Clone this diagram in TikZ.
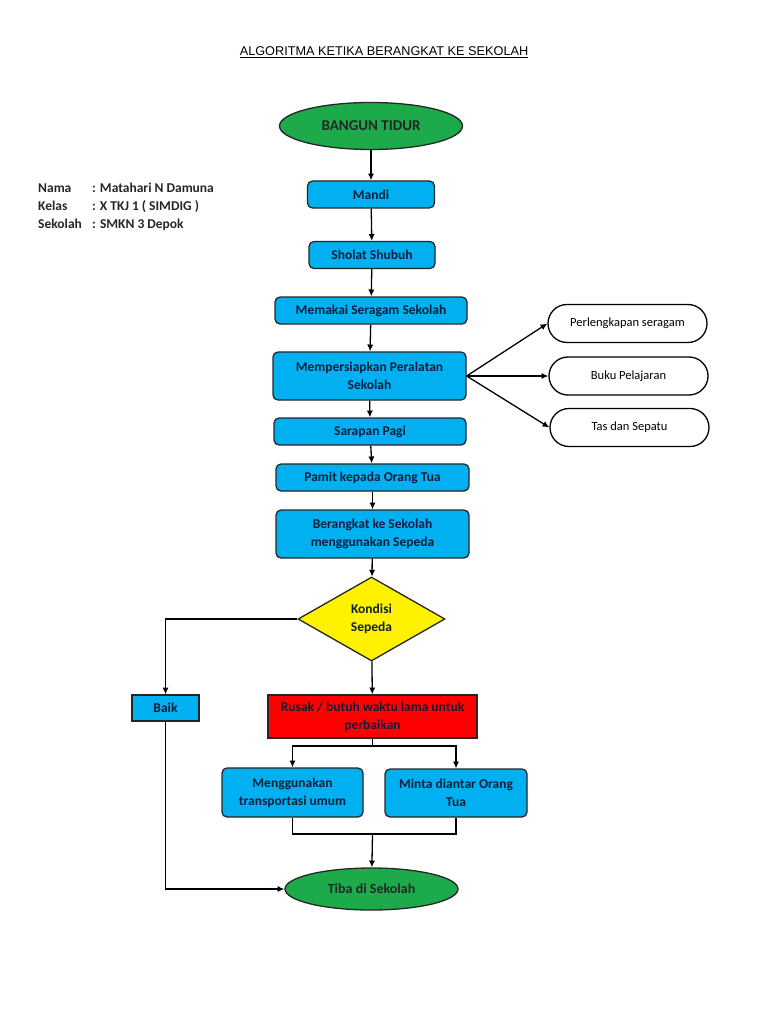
\documentclass[tikz,border=0pt]{standalone}
\usepackage{fontspec}
\setmainfont{Carlito}
\newfontfamily\titlefont{Liberation Sans}
\usetikzlibrary{arrows.meta,positioning,shapes.geometric}
\definecolor{boxblue}{HTML}{00B0F0}
\definecolor{startgreen}{HTML}{1DAA4A}
\definecolor{txtnavy}{HTML}{0F1E3C}

\begin{document}
\begin{tikzpicture}[x=1pt,y=-1pt,font=\fontsize{13}{15}\selectfont,
 box/.style={draw=black!85,line width=1.3pt,rounded corners=5pt,fill=boxblue,align=center,text=txtnavy,font=\fontsize{13.5}{18}\selectfont\bfseries,inner sep=0pt},
 term/.style={draw=black!85,line width=1.3pt,ellipse,fill=startgreen,align=center,text=black!85,font=\fontsize{14}{16}\selectfont\bfseries,inner sep=0pt},
 side/.style={draw=black,line width=1.3pt,rounded corners=19pt,fill=white,align=center,font=\fontsize{12.5}{15}\selectfont,minimum width=159pt,minimum height=38pt,inner sep=0pt},
 arr/.style={-{Latex[length=2.4mm,width=2.2mm]},line width=1.3pt},
 ln/.style={line width=1.3pt}]
\useasboundingbox (0,0) rectangle (768,1024);
\node[font=\titlefont\fontsize{12.7}{14}\selectfont] (title) at (384,52) {\underline{ALGORITMA KETIKA BERANGKAT KE SEKOLAH}};
\node[anchor=north west,align=left,font=\fontsize{13.5}{18}\selectfont\bfseries,text=black!85,inner sep=0pt] (info) at (38,180)
 {\begin{tabular}{@{}p{54pt}@{}l@{}}Nama&: Matahari N Damuna\\Kelas&: X TKJ 1 ( SIMDIG )\\Sekolah&: SMKN 3 Depok\end{tabular}};
\node[term,minimum width=183pt,minimum height=47pt,font=\fontsize{15}{17}\selectfont\bfseries] (bangun) at (371,126) {BANGUN TIDUR};
\node[box,minimum width=127pt,minimum height=27pt] (mandi) at (371,194.5) {Mandi};
\node[box,minimum width=126pt,minimum height=27pt] (sholat) at (372,255) {Sholat Shubuh};
\node[box,minimum width=192pt,minimum height=27pt] (seragam) at (371,310.5) {Memakai Seragam Sekolah};
\node[box,minimum width=193pt,minimum height=48pt] (siap) at (369.5,376) {Mempersiapkan Peralatan\\Sekolah};
\node[box,minimum width=192pt,minimum height=27pt] (sarapan) at (370,431.5) {Sarapan Pagi};
\node[box,minimum width=193pt,minimum height=27pt] (pamit) at (372.5,477.5) {Pamit kepada Orang Tua};
\node[box,minimum width=193pt,minimum height=48pt] (berangkat) at (372.5,534) {Berangkat ke Sekolah\\menggunakan Sepeda};
\node[side] (s1) at (627.5,323.5) {Perlengkapan seragam};
\node[side] (s2) at (628.5,376) {Buku Pelajaran};
\node[side] (s3) at (629.5,427.5) {Tas dan Sepatu};
\node[diamond,draw=black!85,line width=1.3pt,fill=yellow,aspect=1.75,minimum width=147pt,minimum height=84pt,inner sep=0pt,align=center,text=txtnavy,font=\fontsize{13.5}{18}\selectfont\bfseries] (kondisi) at (371.5,619) {Kondisi\\Sepeda};
\node[box,rounded corners=0pt,minimum width=67pt,minimum height=26pt] (baik) at (165.5,708) {Baik};
\node[box,rounded corners=0pt,fill=red,minimum width=209pt,minimum height=43pt] (rusak) at (372.5,716.5) {Rusak / butuh waktu lama untuk\\perbaikan};
\node[box,minimum width=141pt,minimum height=49pt] (umum) at (292.5,792.5) {Menggunakan\\transportasi umum};
\node[box,minimum width=142pt,minimum height=48pt] (ortu) at (456,793) {Minta diantar Orang\\Tua};
\node[term,minimum width=173pt,minimum height=42pt] (tiba) at (371.5,889) {Tiba di Sekolah};
\coordinate (split) at (372.5,746);
\coordinate (merge) at (372.5,834);
% alur utama
\draw[arr](bangun)--(mandi);\draw[arr](mandi)--(sholat);\draw[arr](sholat)--(seragam);\draw[arr](seragam)--(siap);
\draw[arr](siap)--(sarapan);\draw[arr](sarapan)--(pamit);\draw[arr](pamit)--(berangkat);\draw[arr](berangkat)--(kondisi);
\draw[arr](siap.east)--(s1.west);\draw[arr](siap.east)--(s2.west);\draw[arr](siap.east)--(s3.west);
\draw[arr](kondisi.west)-|(baik.north);\draw[arr](kondisi)--(rusak);
\draw[ln](rusak)--(split);\draw[arr](split)-|(umum.north);\draw[arr](split)-|(ortu.north);
\draw[ln](umum.south)|-(merge);\draw[ln](ortu.south)|-(merge);\draw[arr](merge)--(tiba);
\draw[arr](baik.south)|-(tiba.west);
\end{tikzpicture}
\end{document}
